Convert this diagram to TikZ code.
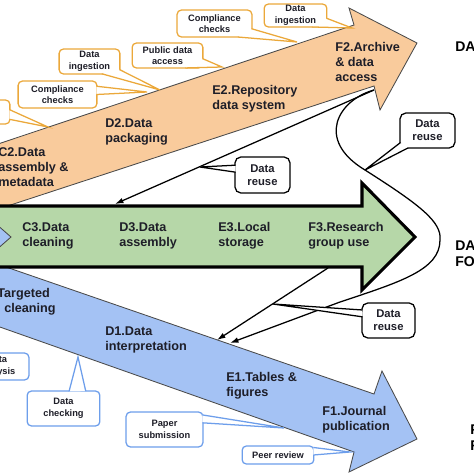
\documentclass[tikz,border=0pt]{standalone}
\usepackage{fontspec}
\setmainfont{Liberation Sans}
\usetikzlibrary{arrows.meta,calc}
\definecolor{peach}{HTML}{F9CB9C}
\definecolor{sage}{HTML}{B6D7A8}
\definecolor{sky}{HTML}{A4C2F4}
\definecolor{gold}{HTML}{EBA83A}
\definecolor{cornflower}{HTML}{6D9EEB}
\definecolor{rim}{HTML}{4A4A4A}
\definecolor{ink}{HTML}{1E1E28}

\begin{document}
\begin{tikzpicture}[x=0.025cm, y=-0.025cm,
    stage/.style={align=left, anchor=west, inner sep=0, text=ink, font=\bfseries\fontsize{9}{10.5}\selectfont},
    side/.style={align=left, anchor=west, inner sep=0, font=\bfseries\fontsize{10}{11.5}\selectfont},
    box/.style={draw, fill=white, rounded corners=3pt, line width=0.9pt, inner sep=1pt, align=center, text=ink, font=\bfseries\fontsize{6.6}{8.2}\selectfont},
    gbox/.style={box, draw=gold},
    bbox/.style={box, draw=cornflower},
    kbox/.style={box, draw=black, rounded corners=4pt, font=\bfseries\fontsize{8}{9.5}\selectfont},
    tail/.style={fill=white, line width=0.9pt, line join=miter},
    reuse/.style={line width=0.9pt, -{Latex[length=6pt,width=4pt]}}]
    \useasboundingbox (0,0) rectangle (474,474);
    \clip (0,0) rectangle (474,474);

    % the three stage arrows
    \filldraw [fill=peach, draw=rim, line width=0.6pt] (-20,150) -- (354,25) -- (349,8) -- (417,43) -- (380,110) -- (374,86) -- (-20,215) -- cycle;
    \filldraw [fill=sky, draw=rim, line width=0.6pt] (-20,258) -- (374,394) -- (382,371) -- (417,439) -- (349,472) -- (354,452) -- (-20,320) -- cycle;
    \filldraw [fill=sage, draw=black, line width=2.2pt, line join=miter] (-10,206) -- (362,206) -- (362,183) -- (415,237) -- (362,290) -- (362,267) -- (-10,267) -- cycle;
    \filldraw [fill=sky, draw=rim, line width=0.6pt] (-5,223) -- (11,237) -- (-5,251);

    \node[stage] (c2) at (-2,167) {C2.Data\\assembly \&\\metadata};
    \node[stage] (d2) at (105,132) {D2.Data\\packaging};
    \node[stage] (e2) at (212,99) {E2.Repository\\data system};
    \node[stage] (f2) at (335,62) {F2.Archive\\\& data\\access};
    \node[stage] (c3) at (22,236) {C3.Data\\cleaning};
    \node[stage] (d3) at (119,236) {D3.Data\\assembly};
    \node[stage] (e3) at (218,236) {E3.Local\\storage};
    \node[stage] (f3) at (308,236) {F3.Research\\group use};
    \node[stage] (c1) at (-3,302) {Targeted\\\hspace*{5pt}cleaning};
    \node[stage] (d1) at (105,340) {D1.Data\\interpretation};
    \node[stage] (e1) at (226,386) {E1.Tables \&\\figures};
    \node[stage] (f1) at (322,420) {F1.Journal\\publication};

    \node[side] (da1) at (455,47) {DA};
    \node[side] (da3) at (455,254) {DA\\FO};
    \node[side] (pr1) at (470,438) {P\\R};

    % reuse connectors
    \coordinate (src) at (374,90);
    \coordinate (tipa) at (115,204);
    \coordinate (k2tip) at (365,170);
    \coordinate (tipb) at (230,343);
    \coordinate (gbot) at (328,268);
    \coordinate (tipc) at (217,340);
    \draw[reuse] (src) -- (tipa);
    \draw[reuse] (src) .. controls (338,100) and (315,140) .. (k2tip)
        .. controls (420,205) and (442,222) .. (440,240)
        .. controls (440,270) and (400,282) .. (340,302) -- (tipb);
    \draw[reuse] (gbot) -- (tipc);

    % orange callouts
    \node[gbox, minimum width=44.6pt, minimum height=16.3pt] (ing2) at (295.5,15.5) {Data\\ingestion};
    \coordinate (ing2tip) at (352,28);
    \filldraw[tail, draw=gold] ($(ing2.-5)!0.8pt!(ing2.center)$) -- (ing2tip) -- ($(ing2.-35)!0.8pt!(ing2.center)$);
    \node[gbox, minimum width=53.2pt, minimum height=19.1pt] (chk2) at (214.5,23.5) {Compliance\\checks};
    \coordinate (chk2tip) at (297,42);
    \filldraw[tail, draw=gold] ($(chk2.-8)!0.8pt!(chk2.center)$) -- (chk2tip) -- ($(chk2.-30)!0.8pt!(chk2.center)$);
    \node[gbox, minimum width=50.3pt, minimum height=17.7pt] (pub) at (167.5,55.5) {Public data\\access};
    \coordinate (pubtip) at (222,67);
    \filldraw[tail, draw=gold] ($(pub.-5)!0.8pt!(pub.center)$) -- (pubtip) -- ($(pub.-35)!0.8pt!(pub.center)$);
    \node[gbox, minimum width=43.2pt, minimum height=17.7pt] (ing1) at (89.5,61.5) {Data\\ingestion};
    \coordinate (ing1tip) at (160,90);
    \filldraw[tail, draw=gold] ($(ing1.-15)!0.8pt!(ing1.center)$) -- (ing1tip) -- ($(ing1.-45)!0.8pt!(ing1.center)$);
    \node[gbox, minimum width=56pt, minimum height=19.1pt] (chk1) at (57.5,94.5) {Compliance\\checks};
    \coordinate (chk1tip) at (147,92);
    \filldraw[tail, draw=gold] ($(chk1.12)!0.8pt!(chk1.center)$) -- (chk1tip) -- ($(chk1.0)!0.8pt!(chk1.center)$);
    \node[gbox, minimum width=49.6pt, minimum height=17pt] (chk0) at (-25,112) {};
    \coordinate (chk0tip) at (48,127);
    \filldraw[tail, draw=gold] ($(chk0.4)!0.8pt!(chk0.center)$) -- (chk0tip) -- ($(chk0.-12)!0.8pt!(chk0.center)$);

    % blue callouts
    \node[bbox, minimum width=45.4pt, minimum height=19.1pt] (ana) at (-3,366.5) {Data\\analysis};
    \node[bbox, minimum width=51.7pt, minimum height=24.8pt] (dchk) at (63.5,408.5) {Data\\checking};
    \coordinate (dchktip) at (78,357);
    \filldraw[tail, draw=cornflower] ($(dchk.72)!0.8pt!(dchk.center)$) -- (dchktip) -- ($(dchk.38)!0.8pt!(dchk.center)$);
    \node[bbox, minimum width=54.6pt, minimum height=24.8pt] (sub) at (164.5,429.5) {Paper\\submission};
    \coordinate (subtip) at (284,428);
    \filldraw[tail, draw=cornflower] ($(sub.21)!0.8pt!(sub.center)$) -- (subtip) -- ($(sub.10)!0.8pt!(sub.center)$);
    \node[bbox, minimum width=51pt, minimum height=12.8pt] (peer) at (278,455) {Peer review};
    \coordinate (peertip) at (350,452);
    \filldraw[tail, draw=cornflower] ($(peer.12)!0.8pt!(peer.center)$) -- (peertip) -- ($(peer.0)!0.8pt!(peer.center)$);

    % black callouts
    \node[kbox, minimum width=39pt, minimum height=25.5pt] (k1) at (262.5,175) {Data\\reuse};
    \coordinate (k1tip) at (200,167);
    \filldraw[tail, draw=black] ($(k1.160)!0.8pt!(k1.center)$) -- (k1tip) -- ($(k1.174)!0.8pt!(k1.center)$);
    \node[kbox, minimum width=39pt, minimum height=24.8pt] (k2) at (427.5,130.5) {Data\\reuse};
    \filldraw[tail, draw=black] ($(k2.204)!0.8pt!(k2.center)$) -- (k2tip) -- ($(k2.222)!0.8pt!(k2.center)$);
    \node[kbox, minimum width=37.6pt, minimum height=24.8pt] (k3) at (388.5,320.5) {Data\\reuse};
    \coordinate (k3tip) at (273,304);
    \filldraw[tail, draw=black] ($(k3.158)!0.8pt!(k3.center)$) -- (k3tip) -- ($(k3.172)!0.8pt!(k3.center)$);
\end{tikzpicture}
\end{document}
